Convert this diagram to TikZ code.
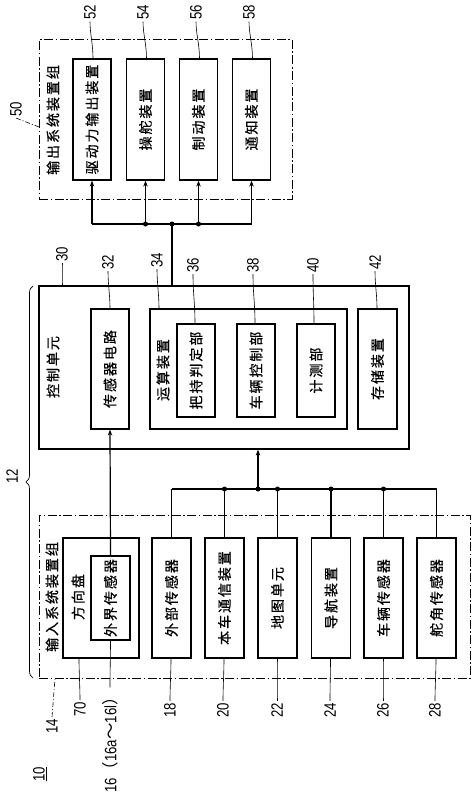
\documentclass[tikz,border=0pt]{standalone}
\usepackage{fontspec}
\usepackage{graphicx}
\setmainfont{Liberation Sans}
\newfontfamily\cjk{Noto Sans CJK SC}[LetterSpace=14,FakeBold=0.6]
\newfontfamily\cjkplain{Noto Sans CJK SC}
\newfontfamily\numfont{Liberation Sans}[FakeStretch=0.8]
\usetikzlibrary{arrows.meta,decorations.pathreplacing}
\newcommand{\vt}[1]{\rotatebox{90}{\cjk #1}}
\newcommand{\vn}[1]{\rotatebox{90}{\numfont #1}}
\tikzset{
  box/.style={draw, line width=1.2pt, inner sep=0pt, font=\fontsize{14}{14}\selectfont},
  grp/.style={draw, line width=1pt, dash pattern=on 9pt off 2.5pt on 1.5pt off 2.5pt, inner sep=0pt},
  txt/.style={inner sep=0pt, font=\fontsize{14}{14}\selectfont},
  num/.style={inner sep=1.5pt, font=\fontsize{16.5}{16.5}\selectfont},
  lead/.style={line width=0.6pt},
  dashlead/.style={line width=0.6pt, dash pattern=on 5pt off 2pt on 1pt off 2pt},
  conn/.style={line width=1.2pt},
  arr/.style={conn, -{Stealth[length=6pt,width=4.5pt]}},
  jdot/.style={circle, fill, inner sep=0pt, minimum size=5pt}
}
\begin{document}
\begin{tikzpicture}[x=1pt,y=-1pt]
\fill[white] (0,0) rectangle (474,792);
\useasboundingbox (0,0) rectangle (474,792);

% ---------- output group ----------
\node[grp, minimum width=253pt, minimum height=159pt] (g50) at (165.5,119.5) {};
\node[txt] (t50) at (53,120) {\vt{输出系统装置组}};
\node[box, minimum width=38pt, minimum height=121pt] (b52) at (92,119.5) {\vt{驱动力输出装置}};
\node[box, minimum width=38pt, minimum height=121pt] (b54) at (145.5,119.5) {\vt{操舵装置}};
\node[box, minimum width=38pt, minimum height=121pt] (b56) at (198.5,119.5) {\vt{制动装置}};
\node[box, minimum width=38pt, minimum height=121pt] (b58) at (251.5,119.5) {\vt{通知装置}};

\node[num] (l50) at (16,109) {\vn{50}};
\node[num] (l52) at (90,12.5) {\vn{52}};
\node[num] (l54) at (143,12.5) {\vn{54}};
\node[num] (l56) at (196,12.5) {\vn{56}};
\node[num] (l58) at (249,12.5) {\vn{58}};
\coordinate (c50) at (39,127);
\draw[dashlead] (l50.south) -- (c50);
\draw[lead] (l52.south) .. controls +(0,12) and +(0,-14) .. ([xshift=1pt]b52.north);
\draw[lead] (l54.south) .. controls +(0,12) and +(0,-14) .. ([xshift=1pt]b54.north);
\draw[lead] (l56.south) .. controls +(0,12) and +(0,-14) .. ([xshift=1pt]b56.north);
\draw[lead] (l58.south) .. controls +(0,12) and +(0,-14) .. ([xshift=1pt]b58.north);

% output bus
\coordinate (o52) at (92,224);
\coordinate (o54) at (145.5,224);
\coordinate (o56) at (198.5,224);
\coordinate (o58) at (251.5,224);
\coordinate (oj) at (172,224);
\draw[conn] (o52) -- (o58);
\draw[arr] (o52) -- (b52.south);
\draw[arr] (o54) -- (b54.south);
\draw[arr] (o56) -- (b56.south);
\draw[arr] (o58) -- (b58.south);
\node[jdot] at (o54) {};
\node[jdot] at (o56) {};
\node[jdot] at (oj) {};

% ---------- control unit ----------
\node[box, minimum width=370pt, minimum height=163pt] (cu) at (224,367.5) {};
\node[txt] (t30) at (53,367) {\vt{控制单元}};
\draw[conn] (cu.north -| oj) -- (oj);
\node[box, minimum width=38pt, minimum height=120pt] (b32) at (110,369) {\vt{传感器电路}};
\node[box, minimum width=197pt, minimum height=120pt] (b34) at (248.5,369) {};
\node[txt] (t34) at (163,370) {\vt{运算装置}};
\node[box, minimum width=38pt, minimum height=93pt] (b36) at (196,370.5) {\vt{把持判定部}};
\node[box, minimum width=38pt, minimum height=93pt] (b38) at (256,370.5) {\vt{车辆控制部}};
\node[box, minimum width=38pt, minimum height=93pt] (b40) at (316,370.5) {\vt{计测部}};
\node[box, minimum width=39pt, minimum height=120pt] (b42) at (377.5,369) {\vt{存储装置}};

\node[num] (l30) at (62,254) {\vn{30}};
\node[num] (l32) at (108,262) {\vn{32}};
\node[num] (l34) at (157,260) {\vn{34}};
\node[num] (l36) at (193,265) {\vn{36}};
\node[num] (l38) at (253,265) {\vn{38}};
\node[num] (l40) at (313,265) {\vn{40}};
\node[num] (l42) at (375,262) {\vn{42}};
\draw[lead] (l30.south) .. controls +(0,8) and +(0,-8) .. (cu.north -| 62,0);
\draw[lead] (l32.south) .. controls +(0,14) and +(0,-14) .. ([xshift=0pt]b32.north);
\draw[lead] (l34.south) .. controls +(0,14) and +(0,-14) .. (b34.north -| 159,0);
\draw[lead] (l36.south) .. controls +(0,20) and +(0,-20) .. ([xshift=-1pt]b36.north);
\draw[lead] (l38.south) .. controls +(0,20) and +(0,-20) .. ([xshift=-1pt]b38.north);
\draw[lead] (l40.south) .. controls +(0,20) and +(0,-20) .. ([xshift=-2pt]b40.north);
\draw[lead] (l42.south) .. controls +(0,14) and +(0,-14) .. ([xshift=-0.5pt]b42.north);

% brace 12
\coordinate (br1) at (33,678);
\coordinate (br2) at (33,286);
\draw[line width=0.7pt, decorate, decoration={brace, amplitude=7pt}] (br1) -- (br2);
\node[num] (l12) at (12,476) {\vn{12}};

% ---------- input group ----------
\node[grp, minimum width=431pt, minimum height=163pt] (g14) at (254.5,596.5) {};
\node[txt] (t14) at (52,597) {\vt{输入系统装置组}};
\node[box, minimum width=76pt, minimum height=120pt] (b70) at (101,598) {};
\node[txt] (t70) at (78,597) {\vt{方向盘}};
\node[box, minimum width=39pt, minimum height=84pt] (b16) at (110.5,598) {\vt{外界传感器}};
\node[box, minimum width=39pt, minimum height=120pt] (b18) at (171.5,598) {\vt{外部传感器}};
\node[box, minimum width=39pt, minimum height=120pt] (b20) at (224.5,598) {\vt{本车通信装置}};
\node[box, minimum width=39pt, minimum height=120pt] (b22) at (277.5,598) {\vt{地图单元}};
\node[box, minimum width=39pt, minimum height=120pt] (b24) at (331,598) {\vt{导航装置}};
\node[box, minimum width=39pt, minimum height=120pt] (b26) at (383.5,598) {\vt{车辆传感器}};
\node[box, minimum width=39pt, minimum height=120pt] (b28) at (436.5,598) {\vt{舵角传感器}};

% input bus
\coordinate (i18) at (171.5,489);
\coordinate (i20) at (224.5,489);
\coordinate (i22) at (277.5,489);
\coordinate (i24) at (331,489);
\coordinate (i26) at (383.5,489);
\coordinate (i28) at (436.5,489);
\coordinate (ij) at (258,489);
\draw[conn] (i18) -- (i28);
\draw[conn] (b18.north) -- (i18);
\draw[conn] (b20.north) -- (i20);
\draw[conn] (b22.north) -- (i22);
\draw[conn] (b24.north) -- (i24);
\draw[conn] (b26.north) -- (i26);
\draw[conn] (b28.north) -- (i28);
\draw[arr] (ij) -- (cu.south -| ij);
\node[jdot] at (i20) {};
\node[jdot] at (i22) {};
\node[jdot] at (i24) {};
\node[jdot] at (i26) {};
\node[jdot] at (ij) {};
\draw[arr] (b16.north) -- (b32.south);

% bottom labels
\node[num] (l14) at (52,726) {\vn{14}};
\node[num] (l70) at (80,709) {\vn{70}};
\node[num] (l16) at (110,741) {\rotatebox{90}{\numfont 16{\cjkplain （}16a{\cjkplain ～}16l{\cjkplain ）}}};
\node[num] (l18) at (170,710) {\vn{18}};
\node[num] (l20) at (223,710) {\vn{20}};
\node[num] (l22) at (277,710) {\vn{22}};
\node[num] (l24) at (330,710) {\vn{24}};
\node[num] (l26) at (383,710) {\vn{26}};
\node[num] (l28) at (435,710) {\vn{28}};
\node[num] (l10) at (40,774) {\vn{\underline{10}}};

\draw[dashlead] (l14.north) -- (g14.south -| 55,0);
\draw[lead] (l70.north) .. controls +(0,-12) and +(0,12) .. (b70.south -| 79,0);
\draw[lead] (l16.north) .. controls +(0,-14) and +(0,14) .. (b16.south);
\draw[lead] (l18.north) .. controls +(0,-14) and +(0,14) .. ([xshift=-0.5pt]b18.south);
\draw[lead] (l20.north) .. controls +(0,-14) and +(0,14) .. ([xshift=-0.5pt]b20.south);
\draw[lead] (l22.north) .. controls +(0,-14) and +(0,14) .. ([xshift=-0.5pt]b22.south);
\draw[lead] (l24.north) .. controls +(0,-14) and +(0,14) .. ([xshift=-0.5pt]b24.south);
\draw[lead] (l26.north) .. controls +(0,-14) and +(0,14) .. ([xshift=-0.5pt]b26.south);
\draw[lead] (l28.north) .. controls +(0,-14) and +(0,14) .. ([xshift=-0.5pt]b28.south);
\end{tikzpicture}
\end{document}
